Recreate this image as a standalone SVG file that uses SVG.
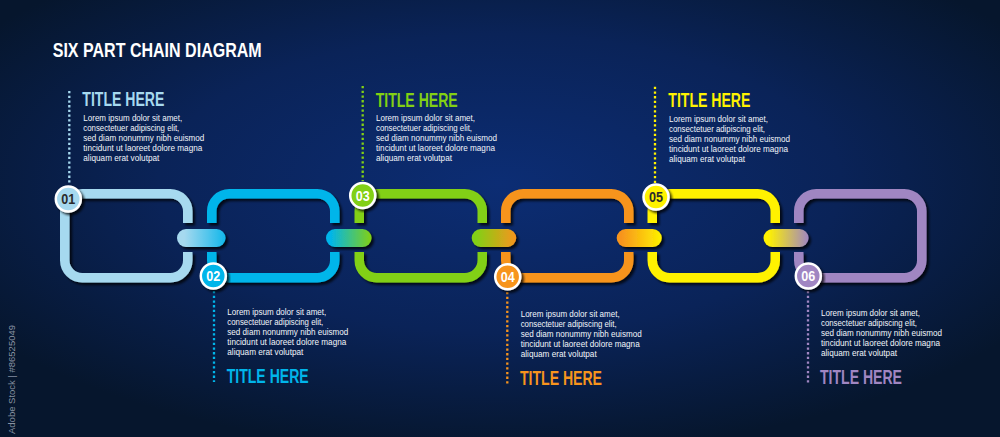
<svg xmlns="http://www.w3.org/2000/svg" width="1000" height="437" viewBox="0 0 1000 437">
<defs>
<radialGradient id="bg" cx="0.5" cy="0.42" r="0.62">
<stop offset="0" stop-color="#0c2d74"/>
<stop offset="0.55" stop-color="#0a2358"/>
<stop offset="1" stop-color="#06162d"/>
</radialGradient>
<filter id="sh" x="-10%" y="-10%" width="130%" height="130%">
<feDropShadow dx="2.5" dy="2.5" stdDeviation="0.8" flood-color="#000" flood-opacity="0.75"/>
</filter>
<linearGradient id="g1"><stop offset="0.15" stop-color="#a6d9ef"/><stop offset="1" stop-color="#12b7ea"/></linearGradient>
<linearGradient id="g2"><stop offset="0.1" stop-color="#00b5ea"/><stop offset="1" stop-color="#82d014"/></linearGradient>
<linearGradient id="g3"><stop offset="0.1" stop-color="#82d014"/><stop offset="1" stop-color="#f7941d"/></linearGradient>
<linearGradient id="g4"><stop offset="0.1" stop-color="#f7941d"/><stop offset="1" stop-color="#fff200"/></linearGradient>
<linearGradient id="g5"><stop offset="0.1" stop-color="#fff200"/><stop offset="1" stop-color="#a086c2"/></linearGradient>
</defs>
<style>
.link{fill:none;stroke-width:9.5;stroke-linecap:butt;filter:url(#sh)}
.dot{stroke-width:2.3;stroke-dasharray:2.3 2.4;fill:none}
.badge{stroke:#fff;stroke-width:2.5;filter:url(#sh)}
.num{font-family:"Liberation Sans",Arial,sans-serif;font-weight:bold;font-size:14.5px;text-anchor:middle}
.title{font-family:"Liberation Sans",Arial,sans-serif;font-weight:bold;font-size:20px}
.body{font-family:"Liberation Sans",Arial,sans-serif;font-size:8.6px;fill:#f2f5fa}
.bar{filter:url(#sh)}
</style>
<rect width="1000" height="437" fill="url(#bg)"/>
<text x="15" y="434" transform="rotate(-90 15 434)" font-family="Liberation Sans,sans-serif" font-size="9.5" fill="#b4bcc8" fill-opacity="0.75" textLength="109" lengthAdjust="spacingAndGlyphs">Adobe Stock | #86525049</text>
<text x="52.7" y="57.3" fill="#fff" class="title" textLength="209" lengthAdjust="spacingAndGlyphs">SIX PART CHAIN DIAGRAM</text>

<g id="node-1">
<path class="link" stroke="#a6d9ef" d="M187.75,223 V211.25 A17.5,17.5 0 0 0 170.25,193.75 H82.25 A17.5,17.5 0 0 0 64.75,211.25 V260.25 A17.5,17.5 0 0 0 82.25,277.75 H170.25 A17.5,17.5 0 0 0 187.75,260.25 V252"/>
<line class="dot" stroke="#a6d9ef" x1="69.3" y1="91" x2="69.3" y2="184"/>
<circle class="badge" cx="68.3" cy="199" r="12.5" fill="#a6d9ef"/>
<text class="num" x="68.3" y="204.2" fill="#2b2b2b" textLength="14" lengthAdjust="spacingAndGlyphs">01</text>
<text class="title" x="82.3" y="106.3" fill="#a6d9ef" textLength="82" lengthAdjust="spacingAndGlyphs">TITLE HERE</text>
<text class="body" x="83.3" y="121" textLength="99" lengthAdjust="spacingAndGlyphs">Lorem ipsum dolor sit amet,</text>
<text class="body" x="83.3" y="131" textLength="96" lengthAdjust="spacingAndGlyphs">consectetuer adipiscing elit,</text>
<text class="body" x="83.3" y="141" textLength="121" lengthAdjust="spacingAndGlyphs">sed diam nonummy nibh euismod</text>
<text class="body" x="83.3" y="151" textLength="119" lengthAdjust="spacingAndGlyphs">tincidunt ut laoreet dolore magna</text>
<text class="body" x="83.3" y="161" textLength="76" lengthAdjust="spacingAndGlyphs">aliquam erat volutpat</text>
</g>

<g id="node-2">
<path class="link" stroke="#00b5ea" d="M211.75,223 V211.25 A17.5,17.5 0 0 1 229.25,193.75 H317.25 A17.5,17.5 0 0 1 334.75,211.25 V223 M211.75,252 V260.25 A17.5,17.5 0 0 0 229.25,277.75 H317.25 A17.5,17.5 0 0 0 334.75,260.25 V252"/>
<line class="dot" stroke="#00b5ea" x1="214" y1="291" x2="214" y2="382"/>
<circle class="badge" cx="213.3" cy="276" r="12.5" fill="#00b5ea"/>
<text class="num" x="213.3" y="281.2" fill="#fff" textLength="14" lengthAdjust="spacingAndGlyphs">02</text>
<text class="body" x="227.3" y="315.3" textLength="99" lengthAdjust="spacingAndGlyphs">Lorem ipsum dolor sit amet,</text>
<text class="body" x="227.3" y="325.3" textLength="96" lengthAdjust="spacingAndGlyphs">consectetuer adipiscing elit,</text>
<text class="body" x="227.3" y="335.3" textLength="121" lengthAdjust="spacingAndGlyphs">sed diam nonummy nibh euismod</text>
<text class="body" x="227.3" y="345.3" textLength="119" lengthAdjust="spacingAndGlyphs">tincidunt ut laoreet dolore magna</text>
<text class="body" x="227.3" y="355.3" textLength="76" lengthAdjust="spacingAndGlyphs">aliquam erat volutpat</text>
<text class="title" x="226.7" y="382.7" fill="#00b5ea" textLength="82" lengthAdjust="spacingAndGlyphs">TITLE HERE</text>
</g>

<g id="node-3">
<path class="link" stroke="#82d014" d="M359.25,223 V211.25 A17.5,17.5 0 0 1 376.75,193.75 H464.75 A17.5,17.5 0 0 1 482.25,211.25 V223 M359.25,252 V260.25 A17.5,17.5 0 0 0 376.75,277.75 H464.75 A17.5,17.5 0 0 0 482.25,260.25 V252"/>
<line class="dot" stroke="#82d014" x1="362.7" y1="86" x2="362.7" y2="181"/>
<circle class="badge" cx="362.7" cy="195.5" r="12.5" fill="#82d014"/>
<text class="num" x="362.7" y="200.7" fill="#fff" textLength="14" lengthAdjust="spacingAndGlyphs">03</text>
<text class="title" x="375.7" y="106.7" fill="#82d014" textLength="82" lengthAdjust="spacingAndGlyphs">TITLE HERE</text>
<text class="body" x="376" y="120.7" textLength="99" lengthAdjust="spacingAndGlyphs">Lorem ipsum dolor sit amet,</text>
<text class="body" x="376" y="130.7" textLength="96" lengthAdjust="spacingAndGlyphs">consectetuer adipiscing elit,</text>
<text class="body" x="376" y="140.7" textLength="121" lengthAdjust="spacingAndGlyphs">sed diam nonummy nibh euismod</text>
<text class="body" x="376" y="150.7" textLength="119" lengthAdjust="spacingAndGlyphs">tincidunt ut laoreet dolore magna</text>
<text class="body" x="376" y="160.7" textLength="76" lengthAdjust="spacingAndGlyphs">aliquam erat volutpat</text>
</g>

<g id="node-4">
<path class="link" stroke="#f7941d" d="M505.75,223 V211.25 A17.5,17.5 0 0 1 523.25,193.75 H611.25 A17.5,17.5 0 0 1 628.75,211.25 V223 M505.75,252 V260.25 A17.5,17.5 0 0 0 523.25,277.75 H611.25 A17.5,17.5 0 0 0 628.75,260.25 V252"/>
<line class="dot" stroke="#f7941d" x1="507.3" y1="292" x2="507.3" y2="385"/>
<circle class="badge" cx="507.7" cy="276.7" r="12.5" fill="#f7941d"/>
<text class="num" x="507.7" y="281.9" fill="#fff" textLength="14" lengthAdjust="spacingAndGlyphs">04</text>
<text class="body" x="520.7" y="316.7" textLength="99" lengthAdjust="spacingAndGlyphs">Lorem ipsum dolor sit amet,</text>
<text class="body" x="520.7" y="326.7" textLength="96" lengthAdjust="spacingAndGlyphs">consectetuer adipiscing elit,</text>
<text class="body" x="520.7" y="336.7" textLength="121" lengthAdjust="spacingAndGlyphs">sed diam nonummy nibh euismod</text>
<text class="body" x="520.7" y="346.7" textLength="119" lengthAdjust="spacingAndGlyphs">tincidunt ut laoreet dolore magna</text>
<text class="body" x="520.7" y="356.7" textLength="76" lengthAdjust="spacingAndGlyphs">aliquam erat volutpat</text>
<text class="title" x="520" y="385" fill="#f7941d" textLength="82" lengthAdjust="spacingAndGlyphs">TITLE HERE</text>
</g>

<g id="node-5">
<path class="link" stroke="#fff200" d="M652.25,223 V211.25 A17.5,17.5 0 0 1 669.75,193.75 H757.75 A17.5,17.5 0 0 1 775.25,211.25 V223 M652.25,252 V260.25 A17.5,17.5 0 0 0 669.75,277.75 H757.75 A17.5,17.5 0 0 0 775.25,260.25 V252"/>
<line class="dot" stroke="#fff200" x1="655" y1="86.7" x2="655" y2="183"/>
<circle class="badge" cx="656" cy="197" r="12.5" fill="#fff200"/>
<text class="num" x="656" y="202.2" fill="#2b2b2b" textLength="14" lengthAdjust="spacingAndGlyphs">05</text>
<text class="title" x="668.3" y="107.3" fill="#fff200" textLength="82" lengthAdjust="spacingAndGlyphs">TITLE HERE</text>
<text class="body" x="669" y="122" textLength="99" lengthAdjust="spacingAndGlyphs">Lorem ipsum dolor sit amet,</text>
<text class="body" x="669" y="132" textLength="96" lengthAdjust="spacingAndGlyphs">consectetuer adipiscing elit,</text>
<text class="body" x="669" y="142" textLength="121" lengthAdjust="spacingAndGlyphs">sed diam nonummy nibh euismod</text>
<text class="body" x="669" y="152" textLength="119" lengthAdjust="spacingAndGlyphs">tincidunt ut laoreet dolore magna</text>
<text class="body" x="669" y="162" textLength="76" lengthAdjust="spacingAndGlyphs">aliquam erat volutpat</text>
</g>

<g id="node-6">
<path class="link" stroke="#a086c2" d="M798.75,252 V260.25 A17.5,17.5 0 0 0 816.25,277.75 H904.25 A17.5,17.5 0 0 0 921.75,260.25 V211.25 A17.5,17.5 0 0 0 904.25,193.75 H816.25 A17.5,17.5 0 0 0 798.75,211.25 V223"/>
<line class="dot" stroke="#a086c2" x1="808" y1="291" x2="808" y2="385"/>
<circle class="badge" cx="808.3" cy="276" r="12.5" fill="#a086c2"/>
<text class="num" x="808.3" y="281.2" fill="#fff" textLength="14" lengthAdjust="spacingAndGlyphs">06</text>
<text class="body" x="821" y="316" textLength="99" lengthAdjust="spacingAndGlyphs">Lorem ipsum dolor sit amet,</text>
<text class="body" x="821" y="326" textLength="96" lengthAdjust="spacingAndGlyphs">consectetuer adipiscing elit,</text>
<text class="body" x="821" y="336" textLength="121" lengthAdjust="spacingAndGlyphs">sed diam nonummy nibh euismod</text>
<text class="body" x="821" y="346" textLength="119" lengthAdjust="spacingAndGlyphs">tincidunt ut laoreet dolore magna</text>
<text class="body" x="821" y="356" textLength="76" lengthAdjust="spacingAndGlyphs">aliquam erat volutpat</text>
<text class="title" x="820" y="384" fill="#a086c2" textLength="82" lengthAdjust="spacingAndGlyphs">TITLE HERE</text>
</g>

<g id="connectors">
<rect class="bar" x="177" y="229" width="48.5" height="18" rx="9" fill="url(#g1)"/>
<rect class="bar" x="326" y="229" width="45.5" height="18" rx="9" fill="url(#g2)"/>
<rect class="bar" x="471.7" y="229" width="44.5" height="18" rx="9" fill="url(#g3)"/>
<rect class="bar" x="616.7" y="229" width="45" height="18" rx="9" fill="url(#g4)"/>
<rect class="bar" x="763.5" y="229" width="45" height="18" rx="9" fill="url(#g5)"/>
</g>
</svg>
